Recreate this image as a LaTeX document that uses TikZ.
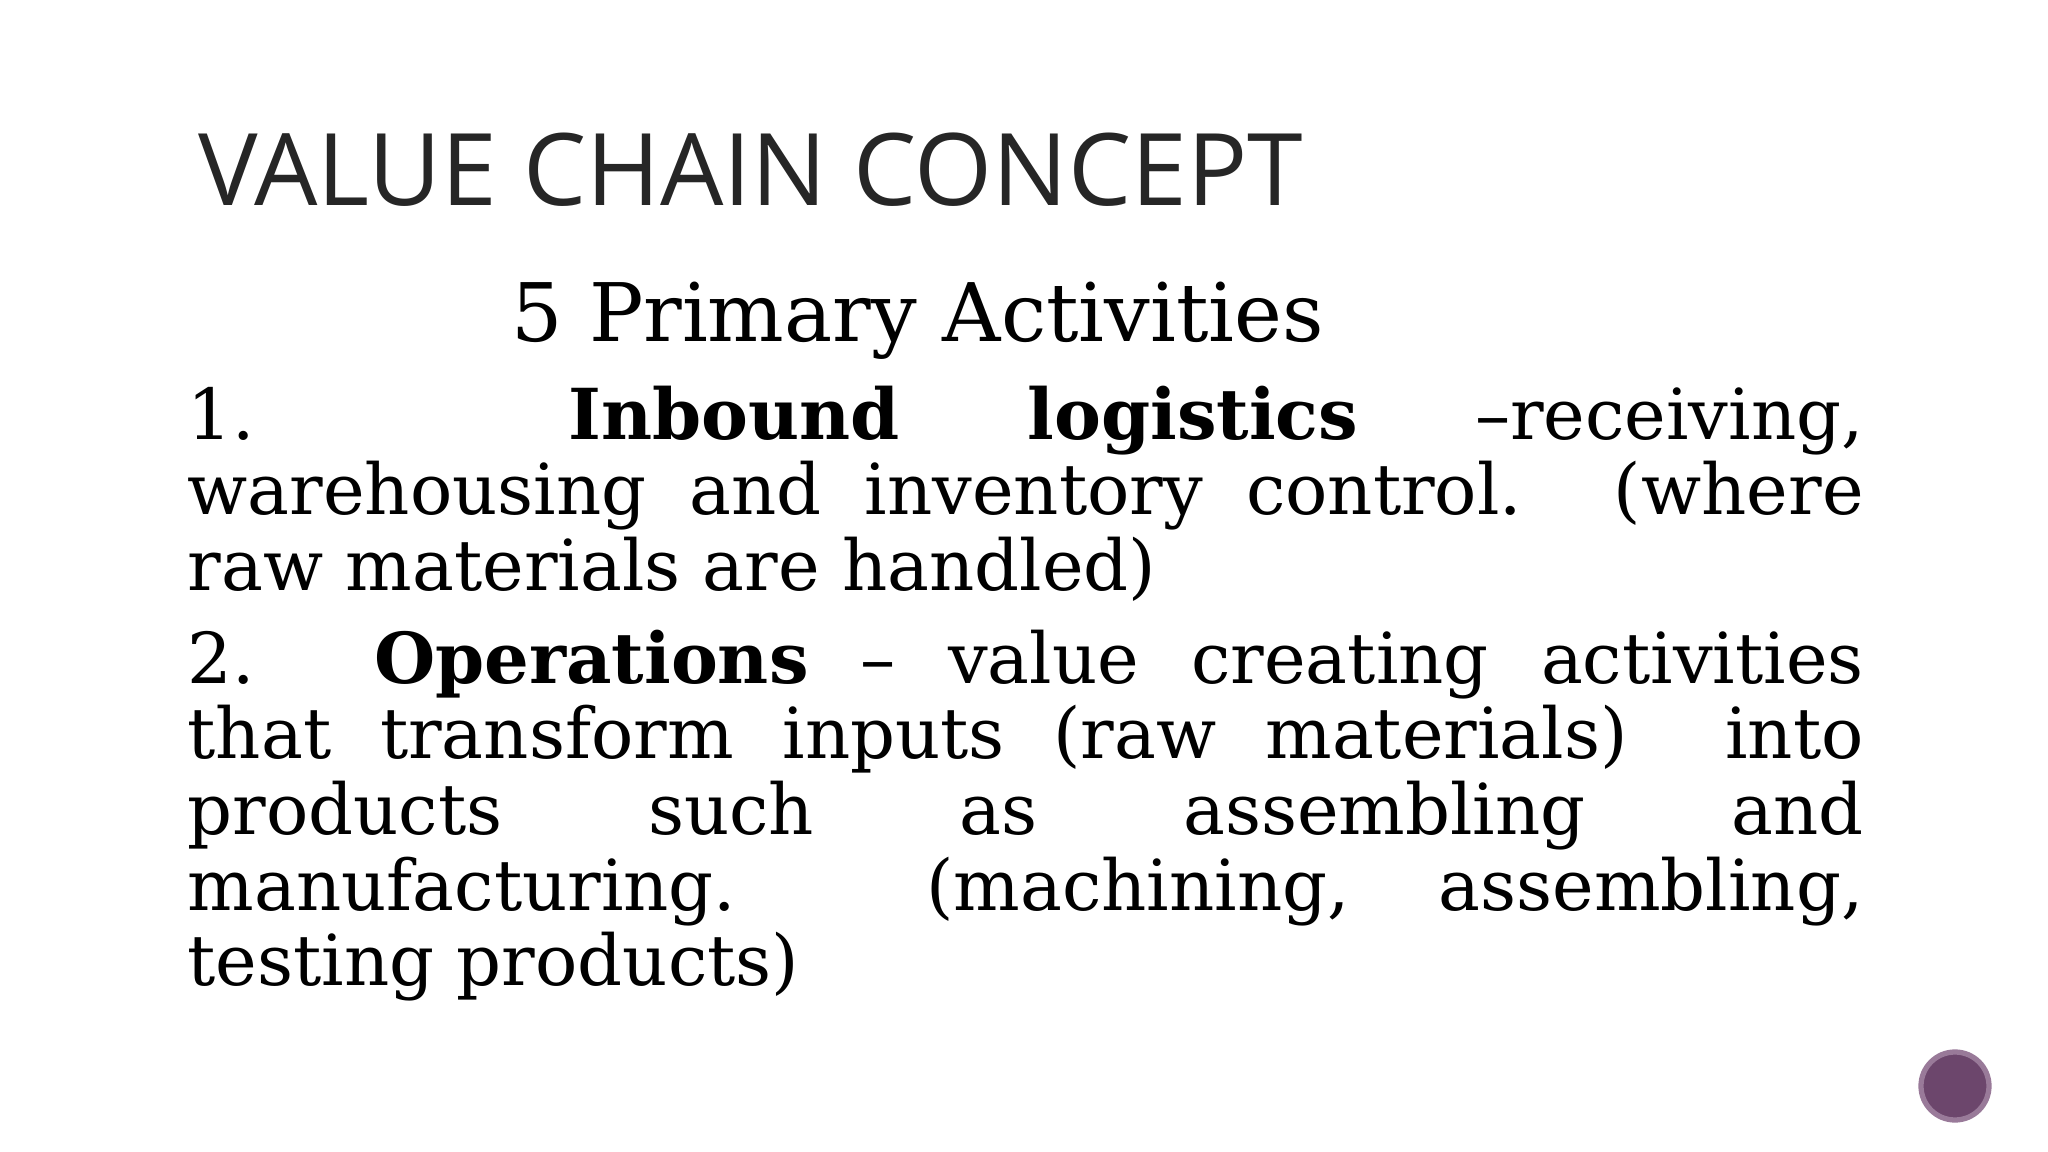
\documentclass[tikz,border=0pt]{standalone}
\usepackage{fontspec}
\setmainfont{DejaVu Serif}
\newfontfamily\titlefont{Open Sans}
\tikzset{
  slidetitle/.style={anchor=west, inner sep=0pt, font=\titlefont\fontsize{28.5}{28.5}\selectfont, text=black!85},
  bodytext/.style={anchor=north west, inner sep=0pt, text width=16.76cm, align=justify,
    font=\fontsize{20}{21.5}\selectfont},
}
\begin{document}
\begin{tikzpicture}
  \useasboundingbox (0,0) rectangle (20.48,-11.52);
  \node[slidetitle] (title) at (1.98,-1.70) {VALUE CHAIN CONCEPT};
  \node[inner sep=0pt, font=\fontsize{23}{23}\selectfont] (subtitle) at (9.18,-3.21) {5 Primary Activities};
  \node[bodytext] (body) at (1.87,-3.85) {%
    1. \textbf{Inbound logistics} --receiving,\linebreak
    warehousing and inventory control. (where\linebreak
    raw materials are handled)\par\vspace{5pt}
    2. \textbf{Operations} -- value creating activities\linebreak
    that transform inputs (raw materials) \ into\linebreak
    products such as assembling and\linebreak
    manufacturing. (machining, assembling,\linebreak
    testing products)};
  \node[circle, minimum size=0.68cm, fill=violet!35!gray!85!black, draw=violet!30!gray!80, line width=1.5pt, inner sep=0pt] (navbtn) at (19.55,-10.86) {};
\end{tikzpicture}
\end{document}
